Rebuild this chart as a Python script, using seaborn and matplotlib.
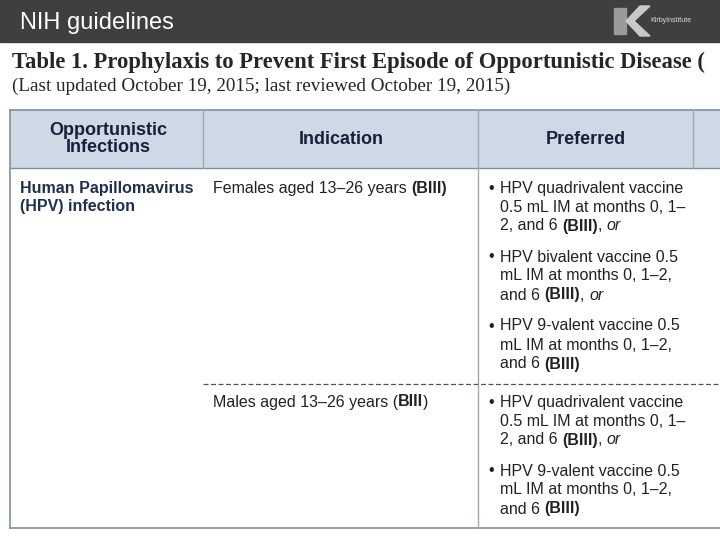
import matplotlib
matplotlib.use("Agg")
import matplotlib.pyplot as plt
import seaborn as sns

sns.set_theme(style="white")
plt.rcParams["font.family"] = ["Liberation Sans", "DejaVu Sans"]

slide_title = "NIH guidelines"
table_title = "Table 1. Prophylaxis to Prevent First Episode of Opportunistic Disease ("
table_sub = "(Last updated October 19, 2015; last reviewed October 19, 2015)"
col_heads = ["Opportunistic\nInfections", "Indication", "Preferred"]
infection = ["Human Papillomavirus", "(HPV) infection"]
indications = [[("Females aged 13\u201326 years ", "n"), ("(BIII)", "b")],
               [("Males aged 13\u201326 years (", "n"), ("BIII", "b"), (")", "n")]]
female_items = [
    [[("HPV quadrivalent vaccine", "n")], [("0.5 mL IM at months 0, 1\u2013", "n")],
     [("2, and 6 ", "n"), ("(BIII)", "b"), (", ", "n"), ("or", "i")]],
    [[("HPV bivalent vaccine 0.5", "n")], [("mL IM at months 0, 1\u20132,", "n")],
     [("and 6 ", "n"), ("(BIII)", "b"), (", ", "n"), ("or", "i")]],
    [[("HPV 9-valent vaccine 0.5", "n")], [("mL IM at months 0, 1\u20132,", "n")],
     [("and 6 ", "n"), ("(BIII)", "b")]],
]
male_items = [
    [[("HPV quadrivalent vaccine", "n")], [("0.5 mL IM at months 0, 1\u2013", "n")],
     [("2, and 6 ", "n"), ("(BIII)", "b"), (", ", "n"), ("or", "i")]],
    [[("HPV 9-valent vaccine 0.5", "n")], [("mL IM at months 0, 1\u20132,", "n")],
     [("and 6 ", "n"), ("(BIII)", "b")]],
]

fig = plt.figure(figsize=(7.2, 5.4), dpi=100)
ax = fig.add_axes([0, 0, 1, 1])
ax.set_xlim(0, 720)
ax.set_ylim(540, 0)
ax.axis("off")
renderer = fig.canvas.get_renderer()

# header bar
ax.add_patch(plt.Rectangle((0, 0), 720, 42, color="#3f3f3f"))
ax.text(20, 23, slide_title, color="white", fontsize=17, va="center")
ax.add_patch(plt.Polygon([[614, 8], [626, 8], [626, 34], [614, 34]], color="#9a9a9a"))
ax.add_patch(plt.Polygon([[626, 21], [640, 6], [650, 6], [634, 21], [650, 36], [640, 36]], color="#c9c9c9"))
ax.text(650, 21, "KirbyInstitute", color="#dddddd", fontsize=5, va="center")

ax.text(12, 62, table_title, family="Liberation Serif", weight="bold", fontsize=16.3, va="center")
ax.text(12, 86, table_sub, family="Liberation Serif", fontsize=13.8, va="center")

# table frame
L, T, B = 10, 110, 528
ax.add_patch(plt.Rectangle((L, T), 720 - L, 58, facecolor="#cdd9e5", edgecolor="none"))
ax.plot([L, 720], [T, T], color="#7f8fa0", lw=1.2)
ax.plot([L, 720], [B, B], color="#7f8fa0", lw=1.2)
ax.plot([L, L], [T, B], color="#7f8fa0", lw=1.2)
ax.plot([L, 720], [168, 168], color="#7f8fa0", lw=1)
for x, y0 in [(203, T), (478, T), (693, T)]:
    ax.plot([x, x], [y0, 168], color="#a0aab5", lw=1)
ax.plot([478, 478], [168, B], color="#a0aab5", lw=1)
ax.plot([203, 720], [384, 384], color="#555555", lw=0.9, ls=(0, (4, 2)))

heads_x = [108, 341, 586]
for x, h in zip(heads_x, col_heads):
    ax.text(x, 139, h, ha="center", va="center", weight="bold", fontsize=13,
            color="#14213a", linespacing=0.95)

for i, line in enumerate(infection):
    ax.text(20, 188 + i * 19, line, weight="bold", fontsize=11.5, color="#1f2f4f", va="center")


def runs(x, y, parts, size=11.5):
    for s, st in parts:
        t = ax.text(x, y, s, fontsize=size, va="center", color="#222222",
                    weight="bold" if st == "b" else "normal",
                    style="italic" if st == "i" else "normal")
        bb = t.get_window_extent(renderer)
        x += bb.width


runs(213, 188, indications[0])
runs(213, 402, indications[1])


def items(ystart, groups):
    y = ystart
    for g in groups:
        ax.text(488, y, "\u2022", fontsize=11.5, va="center", color="#222222")
        for line in g:
            runs(500, y, line)
            y += 19
        y += 12


items(188, female_items)
items(402, male_items)

fig.savefig("out.png", dpi=100)
